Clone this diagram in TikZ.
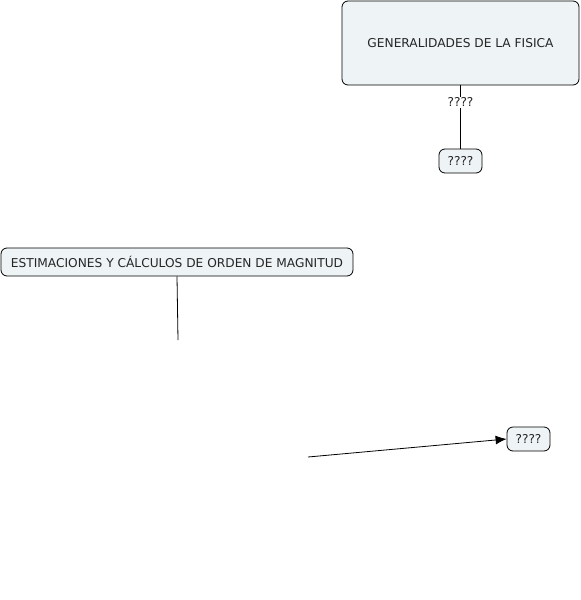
\documentclass[tikz,border=0pt]{standalone}
\usepackage{fontspec}
\setmainfont{DejaVu Sans}
\usetikzlibrary{arrows.meta}

\begin{document}
\begin{tikzpicture}[x=1pt, y=-1pt, line width=0.8pt,
  concept/.style={draw, rounded corners=6pt, fill=boxfill, inner sep=0pt, font=\fontsize{12.2}{14}\selectfont, text=black!85},
  linklabel/.style={fill=white, inner sep=1pt, font=\fontsize{12.2}{14}\selectfont, text=black!85}]
\definecolor{boxfill}{HTML}{EEF3F5}
\useasboundingbox (0,0) rectangle (581,600);

\node[concept, minimum width=237pt, minimum height=84pt] (fisica) at (460.5, 43) {GENERALIDADES DE LA FISICA};
\node[concept, minimum width=43pt, minimum height=24pt] (q1) at (460.5, 161) {????};
\node[concept, minimum width=352pt, minimum height=28pt] (estim) at (177, 262) {ESTIMACIONES Y CÁLCULOS DE ORDEN DE MAGNITUD};
\node[concept, minimum width=43pt, minimum height=24pt] (q2) at (528.5, 439) {????};

\coordinate (estimend) at (178, 340);
\coordinate (arrowstart) at (308, 457);

\draw (fisica.south) -- node[linklabel, pos=0.27] {????} (q1.north);
\draw (estim.south) -- (estimend);
\draw[-{Latex[length=11pt, width=9pt]}] (arrowstart) -- (q2.west);

\end{tikzpicture}
\end{document}
